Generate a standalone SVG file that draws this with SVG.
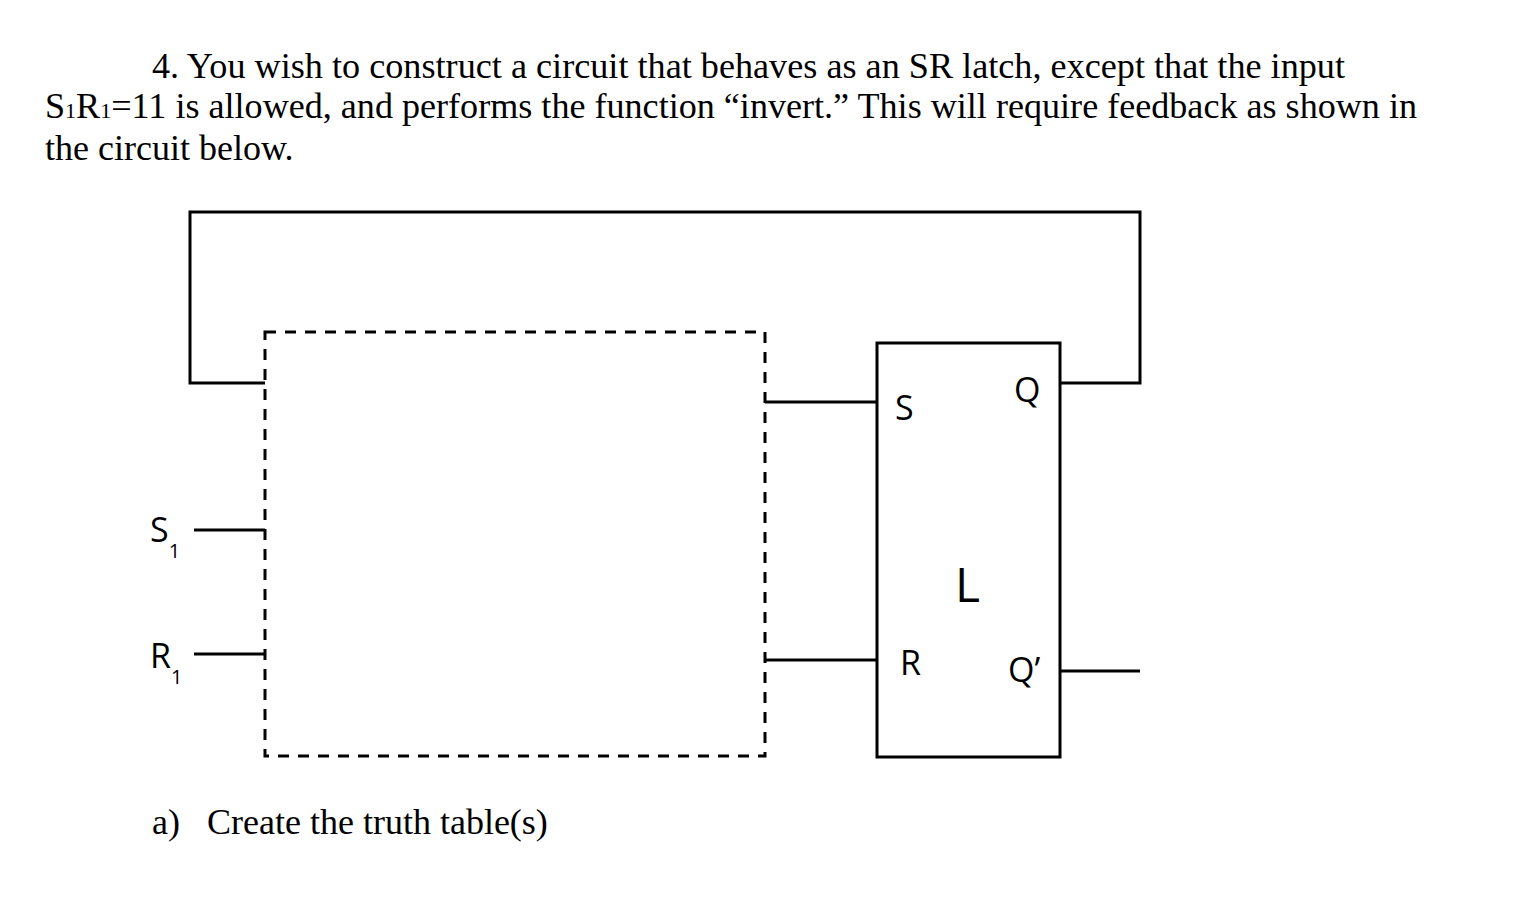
<svg xmlns="http://www.w3.org/2000/svg" width="1518" height="902" viewBox="0 0 1518 902">
<style>
.t{font-family:"Liberation Serif",serif;font-size:36px;fill:#000}
.l{font-family:"Open Sans","DejaVu Sans",sans-serif;fill:#000}
.w{stroke:#000;stroke-width:3;fill:none}
</style>
<rect width="1518" height="902" fill="#fff"/>
<text class="t" x="152" y="78" textLength="1193" lengthAdjust="spacingAndGlyphs">4. You wish to construct a circuit that behaves as an SR latch, except that the input</text>
<text class="t" x="45" y="118" textLength="1372" lengthAdjust="spacingAndGlyphs">S<tspan font-size="22">1</tspan>R<tspan font-size="22">1</tspan>=11 is allowed, and performs the function “invert.” This will require feedback as shown in</text>
<text class="t" x="45" y="160">the circuit below.</text>
<text class="t" x="152" y="834">a)</text>
<text class="t" x="207" y="834">Create the truth table(s)</text>
<g id="box"><rect x="265" y="332" width="500" height="424" class="w" stroke-dasharray="11 9"/></g>
<g id="latch">
<rect x="877" y="343" width="183" height="414" class="w"/>
<text class="l" x="895" y="420" font-size="34">S</text>
<text class="l" x="1014" y="402" font-size="34">Q</text>
<text class="l" x="955" y="602" font-size="48">L</text>
<text class="l" x="900" y="675" font-size="34">R</text>
<text class="l" x="1008" y="682" font-size="34">Q’</text>
</g>
<g id="s1"><text class="l" x="150" y="542" font-size="34">S<tspan font-size="20" dy="16">1</tspan></text></g>
<g id="r1"><text class="l" x="150" y="668" font-size="34">R<tspan font-size="20" dy="16">1</tspan></text></g>
<g id="connectors" class="w">
<polyline points="265,383 190,383 190,212 1140,212 1140,383 1060,383"/>
<line x1="194" y1="530" x2="265" y2="530"/>
<line x1="194" y1="654" x2="265" y2="654"/>
<line x1="765" y1="402" x2="877" y2="402"/>
<line x1="765" y1="660" x2="877" y2="660"/>
<line x1="1060" y1="671" x2="1140" y2="671"/>
</g>
</svg>
